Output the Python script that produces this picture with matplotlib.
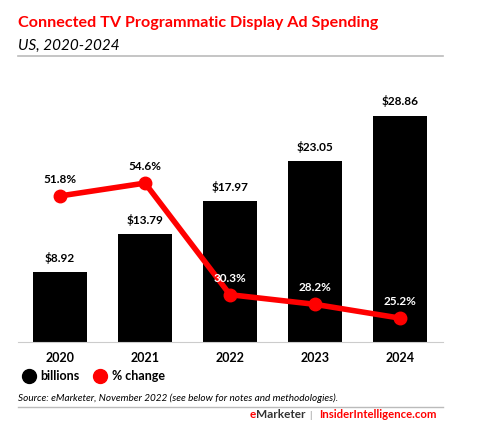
import matplotlib.pyplot as plt
from matplotlib.lines import Line2D

plt.rcParams['font.family'] = ['Lato', 'DejaVu Sans']

# data
years = ['2020', '2021', '2022', '2023', '2024']
spending = [8.92, 13.79, 17.97, 23.05, 28.86]
pct_change = [51.8, 54.6, 30.3, 28.2, 25.2]
spend_labels = ['$8.92', '$13.79', '$17.97', '$23.05', '$28.86']
pct_labels = ['51.8%', '54.6%', '30.3%', '28.2%', '25.2%']

red = '#ff0000'

fig = plt.figure(figsize=(4.81, 4.38), dpi=100)
ax = fig.add_axes([18 / 481, 96 / 438, 425 / 481, 282 / 438])
x = list(range(len(years)))

ax.bar(x, spending, width=0.635, color='black', zorder=2)
ax.set_xlim(-0.494, 4.506)
ax.set_ylim(0, 35.97)
for i, v in enumerate(spending):
    ax.annotate(spend_labels[i], (i, v), xytext=(0, 6), textcoords='offset points',
                ha='center', va='bottom', fontsize=8.5, fontweight='bold')

for s in ['top', 'right', 'left']:
    ax.spines[s].set_visible(False)
ax.spines['bottom'].set_color('#cccccc')
ax.set_yticks([])
ax.set_xticks(x)
ax.set_xticklabels(years, fontsize=9, fontweight='bold')
ax.tick_params(axis='x', length=0, pad=7)

ax2 = ax.twinx()
ax2.set_ylim(20, 81.4)
ax2.plot(x, pct_change, color=red, linewidth=4, marker='o', markersize=9, zorder=3)
ax2.axis('off')
for i, v in enumerate(pct_change):
    col = 'black' if i < 2 else 'white'
    ax2.annotate(pct_labels[i], (i, v), xytext=(0, 8), textcoords='offset points',
                 ha='center', va='bottom', fontsize=8.5, fontweight='bold', color=col)

# header
fig.text(18 / 481, 1 - 23 / 438, 'Connected TV Programmatic Display Ad Spending',
         color=red, fontsize=11.6, fontweight='bold', va='center')
fig.text(18 / 481, 1 - 46 / 438, 'US, 2020-2024', fontsize=11, style='italic', va='center')
fig.add_artist(Line2D([18 / 481, 443 / 481], [1 - 56 / 438, 1 - 56 / 438],
                      color='#bbbbbb', linewidth=1.2))

# legend
handles = [Line2D([], [], marker='o', color='black', linestyle='none', markersize=10),
           Line2D([], [], marker='o', color=red, linestyle='none', markersize=10)]
fig.legend(handles, ['billions', '% change'], loc='center left',
           bbox_to_anchor=(10 / 481, 1 - 376 / 438), ncol=2, frameon=False,
           prop={'weight': 'bold', 'size': 9}, handletextpad=0.35,
           columnspacing=1.0, handlelength=1.2)

# footer
fig.text(18 / 481, 1 - 398 / 438,
         'Source: eMarketer, November 2022 (see below for notes and methodologies).',
         fontsize=7.2, style='italic', va='center')
fig.add_artist(Line2D([18 / 481, 443 / 481], [1 - 407 / 438, 1 - 407 / 438],
                      color='#bbbbbb', linewidth=1))
fig.text(437 / 481, 1 - 415 / 438, 'InsiderIntelligence.com', color=red,
         fontsize=8.2, fontweight='bold', ha='right', va='center')
fig.text(310 / 481, 1 - 415 / 438, '|', color='#888888', fontsize=7, ha='center', va='center')
fig.text(256 / 481, 1 - 415 / 438, 'Marketer', color='#333333',
         fontsize=8.5, fontweight='bold', ha='left', va='center')
fig.text(256 / 481, 1 - 415 / 438, 'e', color=red,
         fontsize=8.5, fontweight='bold', ha='right', va='center')

fig.savefig('out.png', dpi=100)
